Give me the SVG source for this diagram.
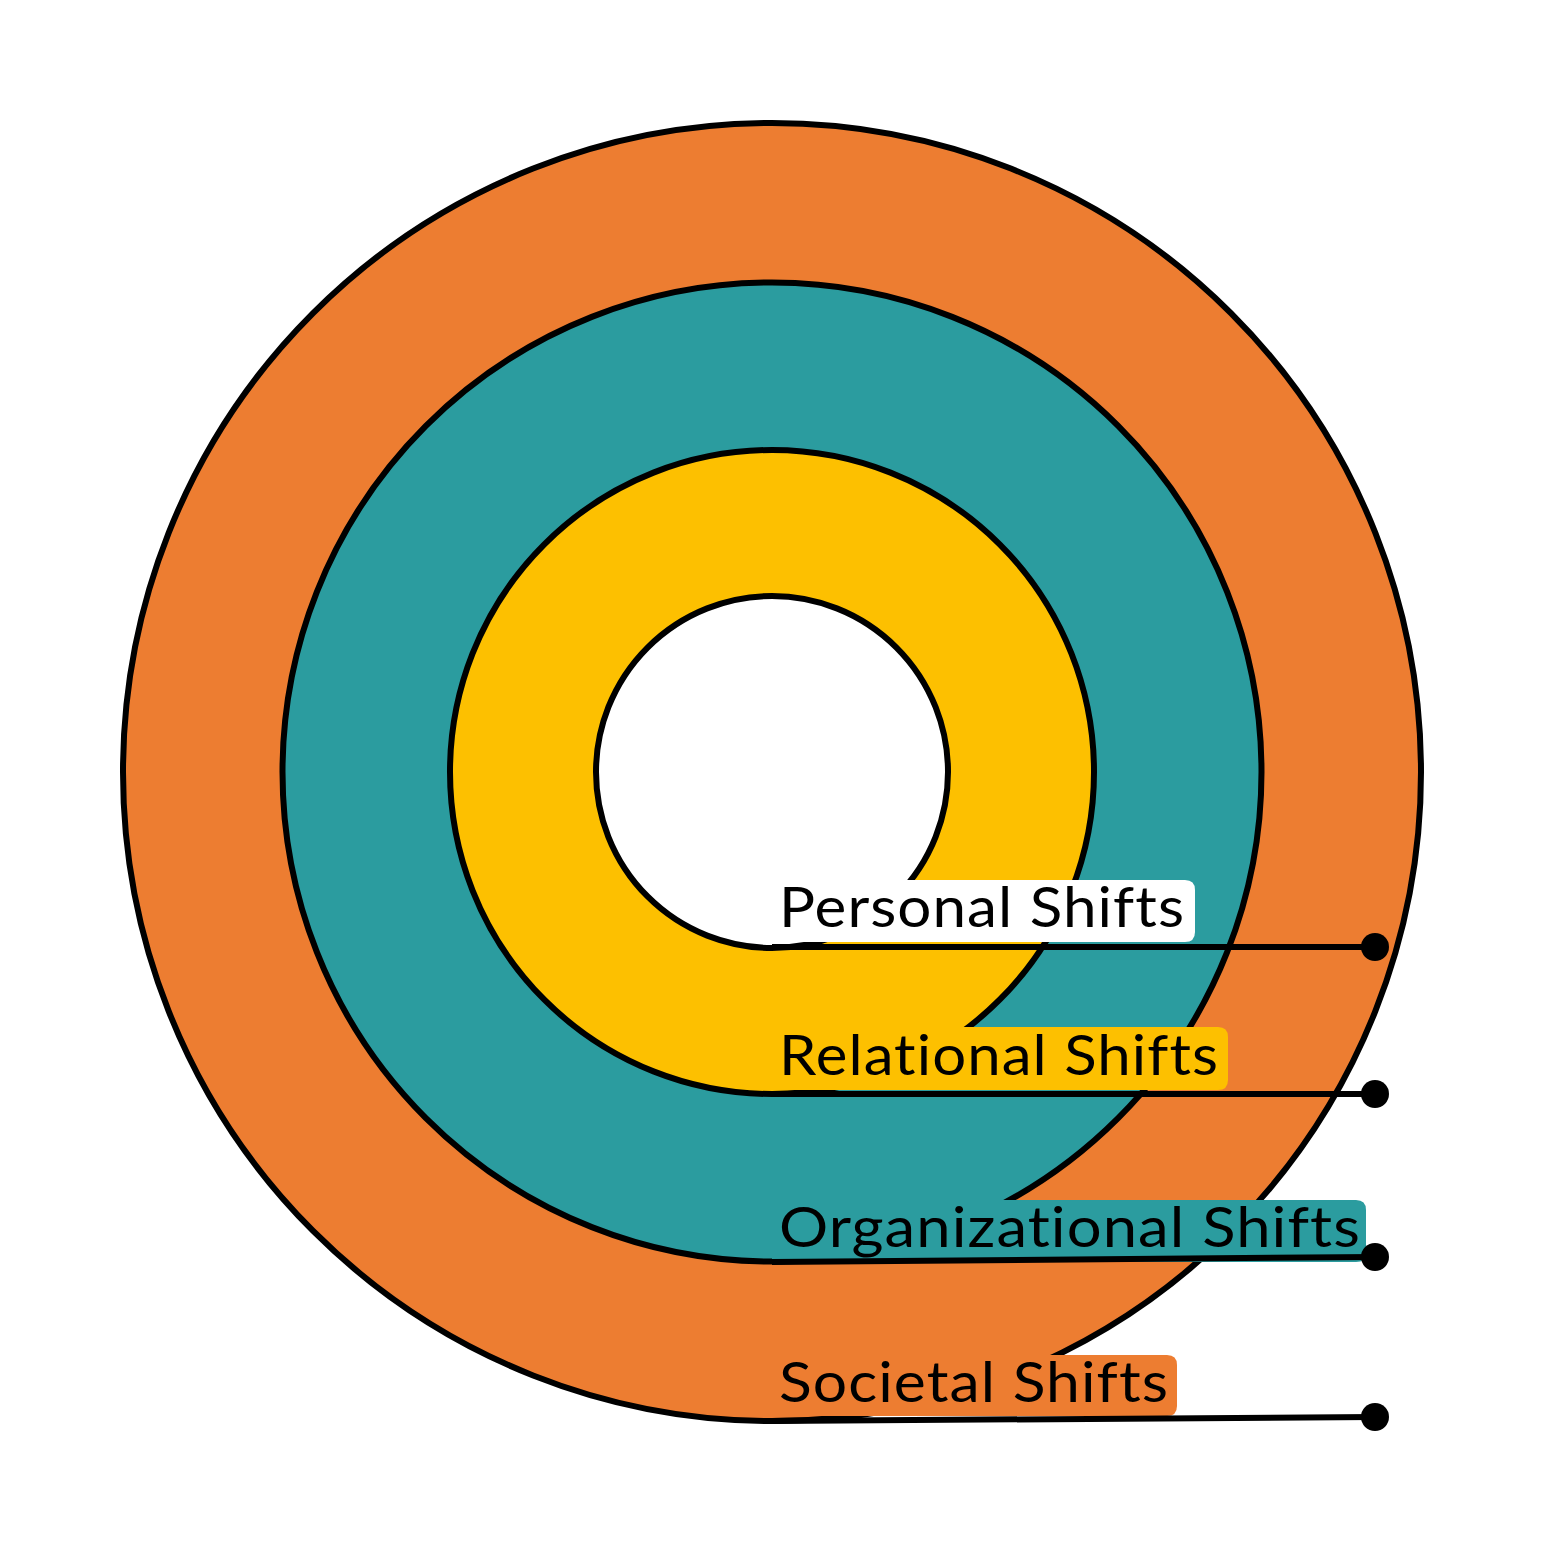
<svg xmlns="http://www.w3.org/2000/svg" width="1544" height="1544" viewBox="0 0 1544 1544">
  <style>
    .ring { stroke: #000; stroke-width: 6; }
    .lbl { font-family: Lato, "Noto Sans", sans-serif; font-size: 56px; fill: #000; letter-spacing: 1px; }
    .conn { stroke: #000; stroke-width: 6; fill: none; }
    .dot { fill: #000; }
  </style>
  <rect width="1544" height="1544" fill="#fff"/>
  <g id="societal-ring"><circle class="ring" cx="772" cy="772" r="649" fill="#ED7D31"/></g>
  <g id="organizational-ring"><circle class="ring" cx="772" cy="772" r="489.5" fill="#2B9C9F"/></g>
  <g id="relational-ring"><circle class="ring" cx="772" cy="772" r="322" fill="#FDC000"/></g>
  <g id="personal-ring"><circle class="ring" cx="772" cy="772" r="176" fill="#fff"/></g>

  <g id="personal-label">
    <path d="M772 880 H1185 Q1195 880 1195 890 V932 Q1195 942 1185 942 H772 Z" fill="#fff"/>
    <text class="lbl" x="779" y="927" textLength="406" lengthAdjust="spacingAndGlyphs">Personal Shifts</text>
  </g>
  <g id="relational-label">
    <path d="M772 1027 H1218 Q1228 1027 1228 1037 V1080 Q1228 1090 1218 1090 H772 Z" fill="#FDC000"/>
    <text class="lbl" x="779" y="1075" textLength="440" lengthAdjust="spacingAndGlyphs">Relational Shifts</text>
  </g>
  <g id="organizational-label">
    <path d="M772 1200 H1356 Q1366 1200 1366 1210 V1252 Q1366 1262 1356 1262 H772 Z" fill="#2B9C9F"/>
    <text class="lbl" x="779" y="1247" textLength="582" lengthAdjust="spacingAndGlyphs">Organizational Shifts</text>
  </g>
  <g id="societal-label">
    <path d="M772 1355 H1167 Q1177 1355 1177 1365 V1406 Q1177 1416 1167 1416 H772 Z" fill="#ED7D31"/>
    <text class="lbl" x="779" y="1402" textLength="390" lengthAdjust="spacingAndGlyphs">Societal Shifts</text>
  </g>

  <g id="connectors">
    <line class="conn" x1="772" y1="947" x2="1375" y2="947"/>
    <circle class="dot" cx="1375" cy="947" r="14"/>
    <line class="conn" x1="772" y1="1094" x2="1375" y2="1094"/>
    <circle class="dot" cx="1375" cy="1094" r="14"/>
    <line class="conn" x1="772" y1="1262" x2="1375" y2="1257"/>
    <circle class="dot" cx="1375" cy="1257" r="14"/>
    <line class="conn" x1="772" y1="1421" x2="1375" y2="1417"/>
    <circle class="dot" cx="1375" cy="1417" r="14"/>
  </g>
</svg>
